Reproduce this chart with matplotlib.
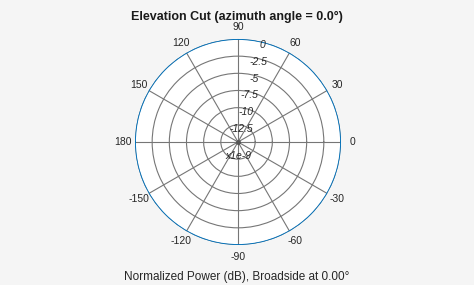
import numpy as np
import matplotlib
matplotlib.use("Agg")
import matplotlib.pyplot as plt

# Data
angles_deg = [-180, -150, -120, -90, -60, -30, 0, 30, 60, 90, 120, 150, 180]
power_db = [0, 0, 0, 0, 0, 0, 0, 0, 0, 0, 0, 0, 0]
ring_values = [-12.5, -10, -7.5, -5, -2.5, 0]
ring_labels = ["-12.5", "-10", "-7.5", "-5", "-2.5", "0"]
angle_ticks = [0, 30, 60, 90, 120, 150, 180, 210, 240, 270, 300, 330]
angle_labels = ["0", "30", "60", "90", "120", "150", "180", "-150", "-120", "-90", "-60", "-30"]

plt.rcParams['font.family'] = ['Liberation Sans', 'DejaVu Sans']

fig = plt.figure(figsize=(4.74, 2.85), dpi=100, facecolor='#f5f5f5')
ax = fig.add_axes([0.2848, 0.1404, 0.4346, 0.7228], projection='polar')
ax.set_facecolor('white')

rmin, rmax = -15, 0
ax.set_ylim(rmin, rmax)

# grid
grid_color = '#767676'
ax.set_yticks(ring_values)
ax.set_yticklabels([])
ax.set_xticks(np.deg2rad(angle_ticks))
ax.set_xticklabels(angle_labels, fontsize=7.5, color='#262626')
ax.tick_params(axis='x', pad=-2)
ax.grid(True, color=grid_color, linewidth=0.8, linestyle='-')
ax.spines['polar'].set_visible(False)

# data line (arcs between samples in polar coordinates)
ln, = ax.plot(np.deg2rad(angles_deg), power_db, color='#0072BD', linewidth=1.3, zorder=5)
ln.get_path()._interpolation_steps = 60

# radial labels
for v, lab in zip(ring_values, ring_labels):
    ax.text(np.deg2rad(76), v - 0.5, lab, fontsize=7.5, style='italic',
            color='#262626', ha='center', va='center', zorder=6)

# center dot and scale label
ax.plot([0], [rmin], marker='o', markersize=2.5, color='#555555', zorder=6)
ax.annotate('x1e-9', xy=(0, rmin), xytext=(0, -10), textcoords='offset points',
            fontsize=7.5, style='italic', color='#262626', ha='center', va='center')

fig.text(0.5, 1 - 17/285, 'Elevation Cut (azimuth angle = 0.0°)', fontsize=9,
         fontweight='bold', ha='center', va='center', color='#1a1a1a')
fig.text(0.5, 1 - 277/285, 'Normalized Power (dB), Broadside at 0.00°', fontsize=8.5,
         ha='center', va='center', color='#262626')

fig.savefig('out.png', dpi=100, facecolor=fig.get_facecolor())
